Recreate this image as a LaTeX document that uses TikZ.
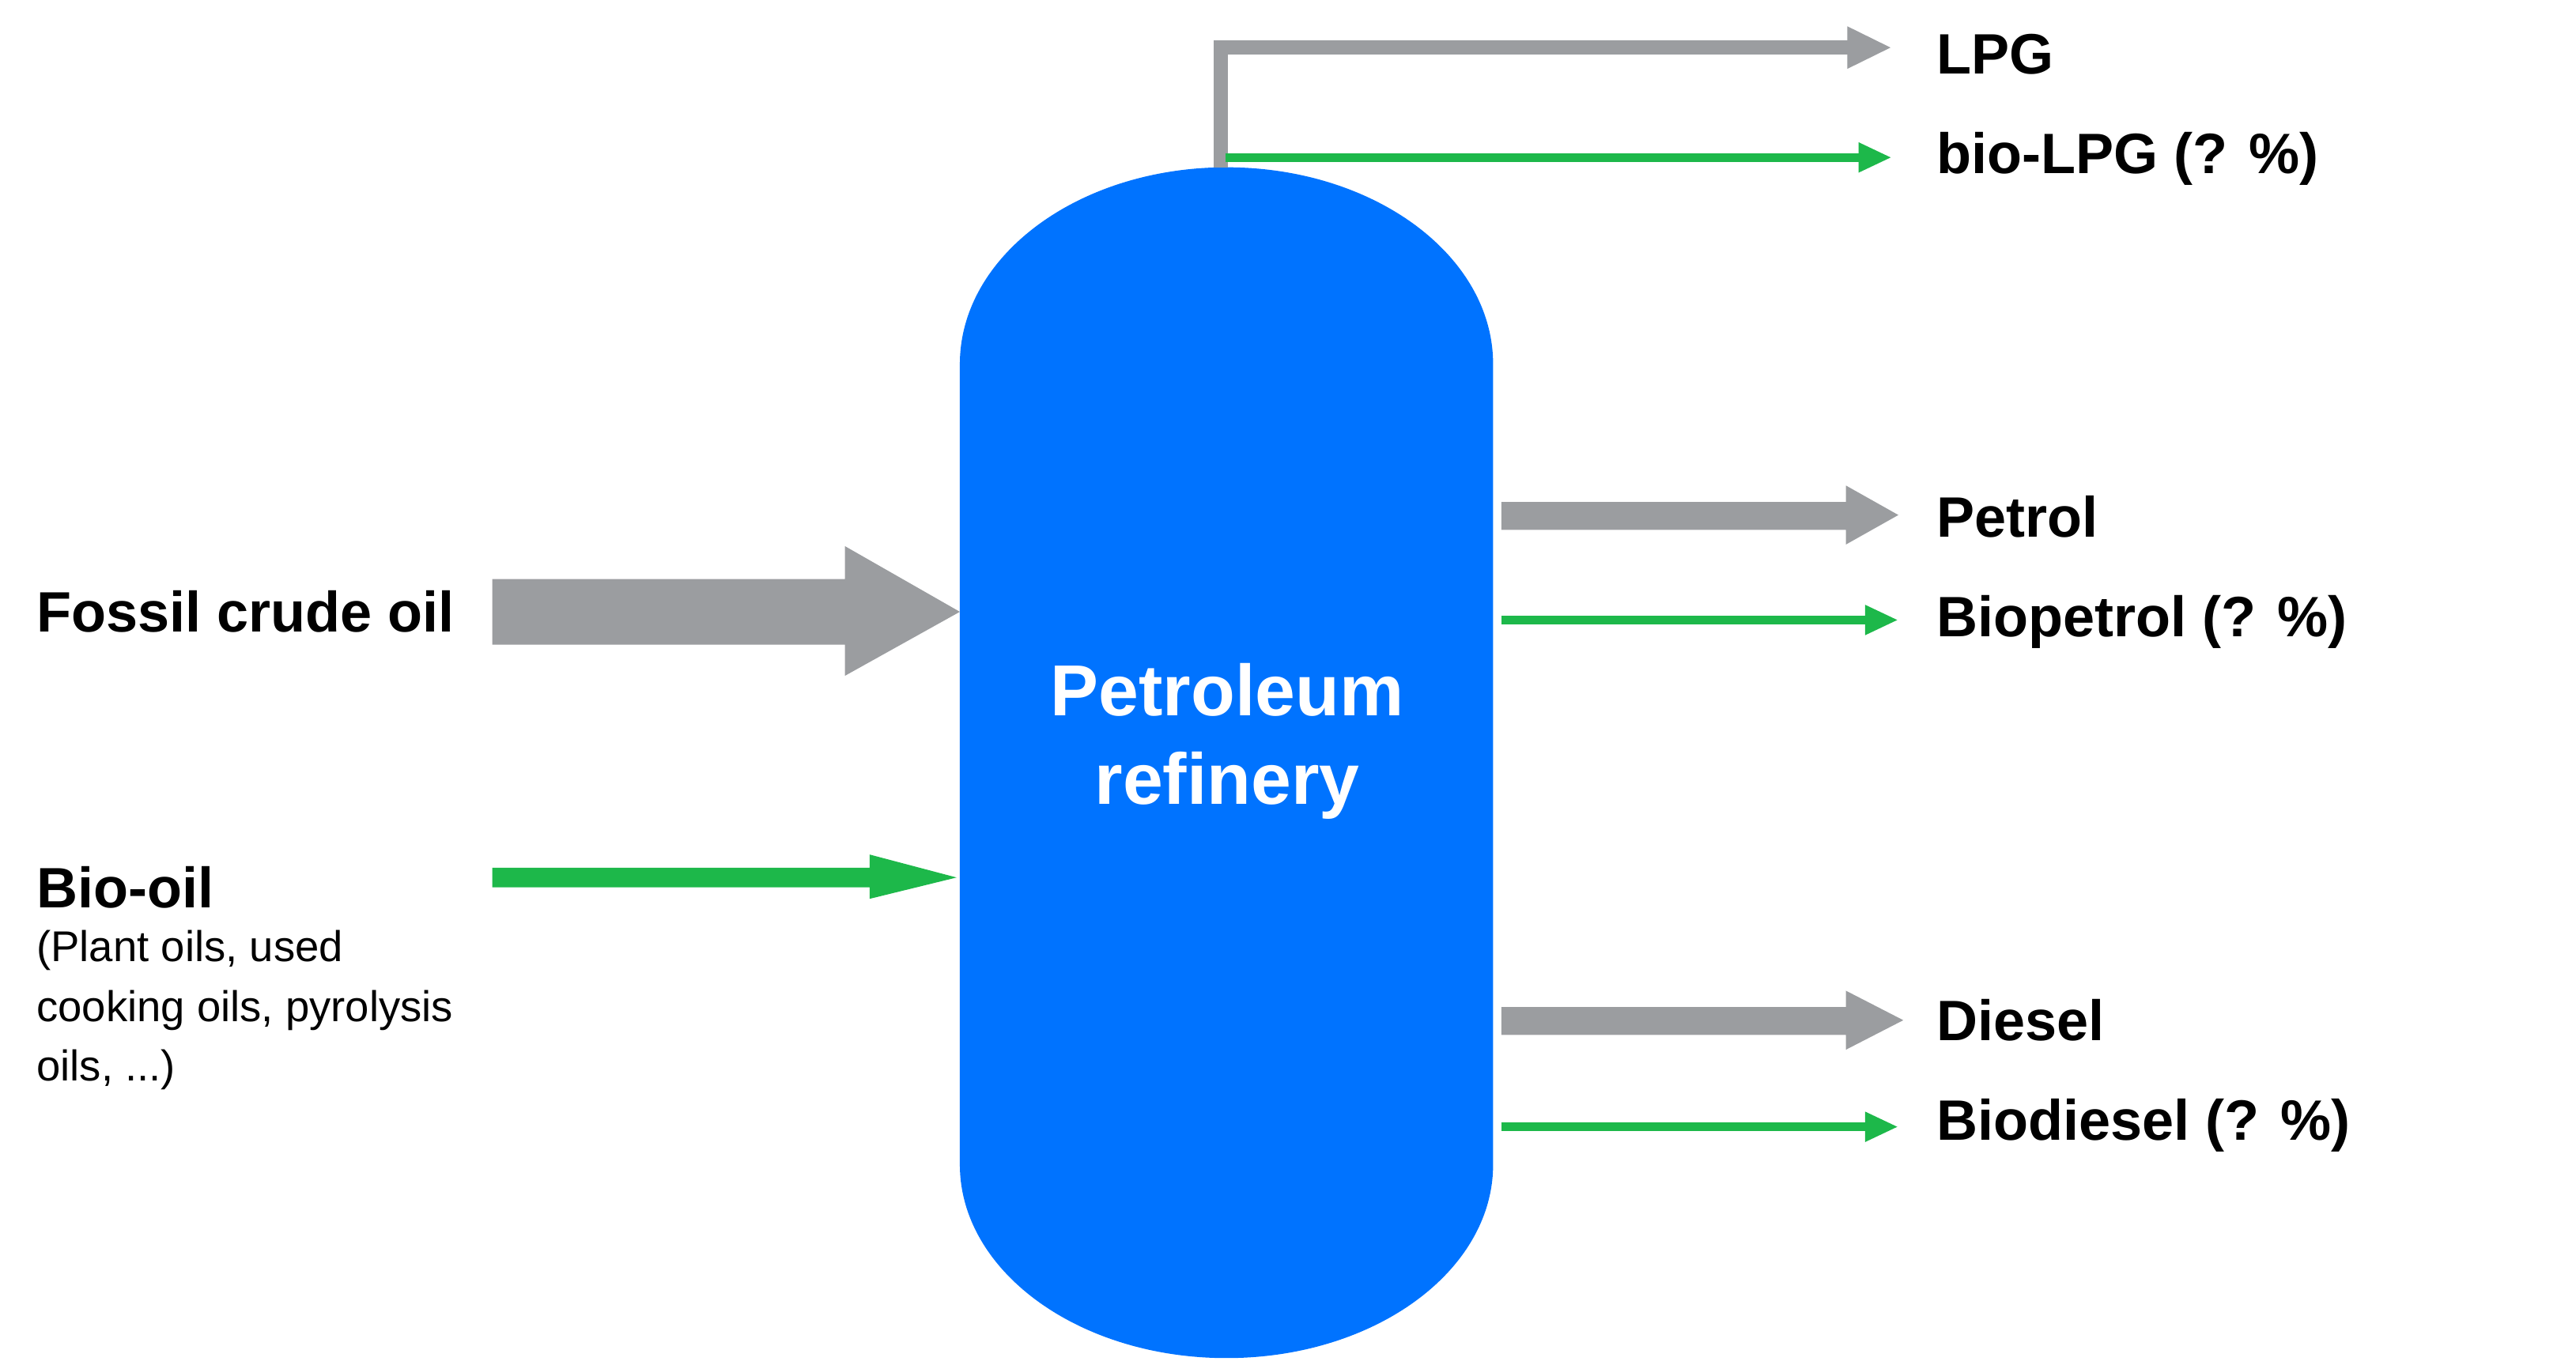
\documentclass[tikz,border=0pt]{standalone}
\usepackage{fontspec}
\setmainfont{Liberation Sans}
\usetikzlibrary{arrows.meta}
\definecolor{vblue}{HTML}{0073FF}
\definecolor{fgrey}{HTML}{9B9DA0}
\definecolor{bgreen}{HTML}{1DB84A}
\begin{document}
\begin{tikzpicture}[x=0.02075cm,y=-0.02075cm,
  lab/.style={anchor=west,font=\fontsize{20.5}{24}\selectfont\bfseries,inner sep=0pt},
  thin green/.style={draw=bgreen,line width=3.2pt,-{Triangle[length=12pt,width=10pt]}},
  big/.style={fill=fgrey}]
\useasboundingbox (0,0) rectangle (1570,832);
% vessel
\fill[vblue] (585,222) -- (585,710) arc[start angle=180,end angle=0,x radius=162.5,y radius=118] -- (910,222) arc[start angle=0,end angle=-180,x radius=162.5,y radius=120] -- cycle;
\node[text=white,align=center,font=\fontsize{26}{32}\selectfont\bfseries] (ref) at (748,452) {Petroleum\\refinery};
\coordinate (top) at (744,102);
% LPG
\node[lab] (lpg) at (1180,33) {LPG};
\node[lab] (biolpg) at (1180,97) {bio-LPG (? \%)};
\draw[fgrey,line width=5pt,-{Triangle[length=16pt,width=14pt]}] (top) -- (744,29) -- (1153,29);
\draw[thin green] (747,96) -- (1153,96);
% Petrol
\node[lab] (petrol) at (1180,315) {Petrol};
\node[lab] (biopetrol) at (1180,379) {Biopetrol (? \%)};
\fill[big] (915,306) -- (1125,306) -- (1125,296) -- (1157,314) -- (1125,332) -- (1125,323) -- (915,323) -- cycle;
\draw[thin green] (915,378) -- (1157,378);
% Diesel
\node[lab] (diesel) at (1180,622) {Diesel};
\node[lab] (biodiesel) at (1180,686) {Biodiesel (? \%)};
\fill[big] (915,614) -- (1125,614) -- (1125,604) -- (1160,622) -- (1125,640) -- (1125,631) -- (915,631) -- cycle;
\draw[thin green] (915,687) -- (1157,687);
% inputs
\node[lab] (fossil) at (22,373) {Fossil crude oil};
\fill[big] (300,353) -- (515,353) -- (515,333) -- (585,373) -- (515,412) -- (515,393) -- (300,393) -- cycle;
\node[lab] (biooil) at (22,541) {Bio-oil};
\node[anchor=north west,align=left,inner sep=0pt,font=\fontsize{15.5}{21.5}\selectfont] (bionote) at (22,567) {(Plant oils, used\\cooking oils, pyrolysis\\oils, ...)};
\fill[bgreen] (300,529) -- (530,529) -- (530,521) -- (583,535) -- (530,548) -- (530,541) -- (300,541) -- cycle;
\end{tikzpicture}
\end{document}
